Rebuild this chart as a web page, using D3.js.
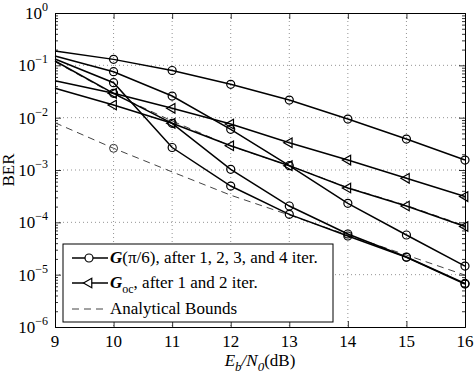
<!DOCTYPE html>
<html>
<head>
<meta charset="utf-8">
<script src="https://cdn.jsdelivr.net/npm/d3@7"></script>
<style>
  body { margin: 0; background: #fff; }
  text { font-family: "Liberation Serif", "DejaVu Serif", serif; }
</style>
</head>
<body>
<div id="chart"></div>
<script>
// Eb/N0 points (dB)
var snr = [9, 10, 11, 12, 13, 14, 15, 16];

// G(pi/6), iterations (circle markers)
var gIter1 = [0.188, 0.130, 0.0797, 0.0434, 0.0217, 0.0094, 0.0039, 0.00155];
var gIter2 = [0.151, 0.0755, 0.0259, 0.0060, 0.00121, 2.31e-4, 5.73e-5, 1.46e-5];
var gIter3 = [0.121, 0.0292, 0.0078, 0.00103, 2.05e-4, 5.98e-5, 2.17e-5, 6.8e-6];
var gIter4 = [0.132, 0.0466, 0.00269, 4.94e-4, 1.42e-4, 5.48e-5, 2.15e-5, 6.6e-6];

// G_oc, iterations (triangle markers)
var ocIter1 = [0.0508, 0.0292, 0.0151, 0.00757, 0.00332, 0.00155, 6.94e-4, 3.11e-4];
var ocIter2 = [0.0364, 0.01746, 0.0078, 0.00291, 0.00121, 4.53e-4, 2.05e-4, 8.32e-5];

// analytical bounds (dashed)
var boundOc = [0.117, 0.0283, 0.00863, 0.00287, 0.00121, 4.6e-4, 2.1e-4, 8.6e-5];
var boundG = [0.0080, 0.0026, 9.2e-4, 3.3e-4, 1.38e-4, 5.7e-5, 2.37e-5, 9.8e-6];
var boundMarkerIdx = [1];   // the lone marker sitting on the lower bound

var xTicks = [9, 10, 11, 12, 13, 14, 15, 16];
var yExps = [0, -1, -2, -3, -4, -5, -6];

var W = 474, H = 375;
var margin = {top: 13, right: 9, bottom: 48, left: 55};
var width = W - margin.left - margin.right,
    height = H - margin.top - margin.bottom;

var svg = d3.select("#chart").append("svg")
    .attr("width", W).attr("height", H);
var g = svg.append("g")
    .attr("transform", "translate(" + margin.left + "," + margin.top + ")");

var x = d3.scaleLinear().domain([9, 16]).range([0, width]);
var y = d3.scaleLog().domain([1e-6, 1]).range([height, 0]);

// dotted grid
g.append("g").selectAll("line")
  .data(xTicks.slice(1, -1)).enter().append("line")
    .attr("x1", function(d) { return x(d); }).attr("x2", function(d) { return x(d); })
    .attr("y1", 0).attr("y2", height)
    .attr("stroke", "#777").attr("stroke-width", 0.8).attr("stroke-dasharray", "1,3");
g.append("g").selectAll("line")
  .data(yExps.slice(1, -1)).enter().append("line")
    .attr("y1", function(d) { return y(Math.pow(10, d)); })
    .attr("y2", function(d) { return y(Math.pow(10, d)); })
    .attr("x1", 0).attr("x2", width)
    .attr("stroke", "#777").attr("stroke-width", 0.8).attr("stroke-dasharray", "1,3");

// minor tick values
var minor = [];
for (var e = -6; e < 0; e++) for (var k = 2; k <= 9; k++) minor.push(k * Math.pow(10, e));

function noLabels(ax) { return ax.tickFormat(""); }

// axes with inward ticks on all four sides
var major = yExps.map(function(d) { return Math.pow(10, d); });
g.append("g").call(noLabels(d3.axisLeft(y).tickValues(major).tickSizeInner(-6).tickSizeOuter(0)));
g.append("g").call(noLabels(d3.axisLeft(y).tickValues(minor).tickSizeInner(-3).tickSizeOuter(0)));
g.append("g").attr("transform", "translate(" + width + ",0)")
  .call(noLabels(d3.axisRight(y).tickValues(major).tickSizeInner(-6).tickSizeOuter(0)));
g.append("g").attr("transform", "translate(" + width + ",0)")
  .call(noLabels(d3.axisRight(y).tickValues(minor).tickSizeInner(-3).tickSizeOuter(0)));
g.append("g").attr("transform", "translate(0," + height + ")")
  .call(noLabels(d3.axisBottom(x).tickValues(xTicks).tickSizeInner(-6).tickSizeOuter(0)));
g.append("g")
  .call(noLabels(d3.axisTop(x).tickValues(xTicks).tickSizeInner(-6).tickSizeOuter(0)));
g.selectAll(".domain").attr("stroke", "#000").attr("stroke-width", 1);
g.selectAll(".tick line").attr("stroke", "#000").attr("stroke-width", 0.8);

// y tick labels 10^n
yExps.forEach(function(d) {
  var t = g.append("text")
      .attr("x", -7).attr("y", y(Math.pow(10, d)) + 6)
      .attr("text-anchor", "end").style("font-size", "17px");
  t.append("tspan").text("10");
  t.append("tspan").attr("dy", -8).style("font-size", "12px")
    .text(d === 0 ? "0" : "\u2212" + (-d));
});

// x tick labels
g.append("g").selectAll("text")
  .data(xTicks).enter().append("text")
    .attr("x", function(d) { return x(d); })
    .attr("y", height + 20)
    .attr("text-anchor", "middle").style("font-size", "17px")
    .text(function(d) { return d; });

// axis titles
var xt = g.append("text")
    .attr("x", width / 2).attr("y", height + 39)
    .attr("text-anchor", "middle").style("font-size", "17px");
xt.append("tspan").style("font-style", "italic").text("E");
xt.append("tspan").attr("dy", 5).style("font-style", "italic").style("font-size", "13px").text("b");
xt.append("tspan").attr("dy", -5).style("font-style", "italic").text("/N");
xt.append("tspan").attr("dy", 5).style("font-style", "italic").style("font-size", "13px").text("0");
xt.append("tspan").attr("dy", -5).text("(dB)");

g.append("text")
    .attr("transform", "translate(" + (-41) + "," + (height / 2) + ") rotate(-90)")
    .attr("text-anchor", "middle").style("font-size", "17px")
    .text("BER");

var line = d3.line()
    .x(function(d, i) { return x(snr[i]); })
    .y(function(d) { return y(d); });

// bounds
[boundOc, boundG].forEach(function(s) {
  g.append("path").datum(s)
    .attr("fill", "none").attr("stroke", "#444").attr("stroke-width", 1)
    .attr("stroke-dasharray", "7,5").attr("d", line);
});
g.append("g").selectAll("circle")
  .data(boundMarkerIdx).enter().append("circle")
    .attr("cx", function(i) { return x(snr[i]); })
    .attr("cy", function(i) { return y(boundG[i]); })
    .attr("r", 4).attr("fill", "none").attr("stroke", "#333").attr("stroke-width", 1);

var tri = d3.symbol().type(d3.symbolTriangle).size(40);

function drawSeries(s, marker) {
  g.append("path").datum(s)
    .attr("fill", "none").attr("stroke", "#000").attr("stroke-width", 1.5)
    .attr("d", line);
  // no markers at the first point (9 dB)
  var idx = d3.range(1, s.length);
  var pts = g.append("g").selectAll("path")
    .data(idx).enter();
  if (marker === "circle") {
    pts.append("circle")
      .attr("cx", function(i) { return x(snr[i]); })
      .attr("cy", function(i) { return y(s[i]); })
      .attr("r", 4).attr("fill", "none").attr("stroke", "#000").attr("stroke-width", 1.2);
  } else {
    pts.append("path")
      .attr("d", tri)
      .attr("transform", function(i) {
        return "translate(" + x(snr[i]) + "," + y(s[i]) + ") rotate(-90)";
      })
      .attr("fill", "none").attr("stroke", "#000").attr("stroke-width", 1.2);
  }
}
[gIter1, gIter2, gIter3, gIter4].forEach(function(s) { drawSeries(s, "circle"); });
[ocIter1, ocIter2].forEach(function(s) { drawSeries(s, "triangle"); });

// legend
var lg = g.append("g").attr("transform", "translate(8,231)");
lg.append("rect").attr("width", 270).attr("height", 78)
  .attr("fill", "#fff").attr("stroke", "#000").attr("stroke-width", 1);

var rows = [14, 39, 65];
lg.append("line").attr("x1", 9).attr("x2", 45).attr("y1", rows[0]).attr("y2", rows[0])
  .attr("stroke", "#000").attr("stroke-width", 1.5);
lg.append("circle").attr("cx", 26).attr("cy", rows[0]).attr("r", 4)
  .attr("fill", "#fff").attr("stroke", "#000").attr("stroke-width", 1.2);
lg.append("line").attr("x1", 9).attr("x2", 45).attr("y1", rows[1]).attr("y2", rows[1])
  .attr("stroke", "#000").attr("stroke-width", 1.5);
lg.append("path").attr("d", tri)
  .attr("transform", "translate(26," + rows[1] + ") rotate(-90)")
  .attr("fill", "#fff").attr("stroke", "#000").attr("stroke-width", 1.2);
lg.append("line").attr("x1", 9).attr("x2", 45).attr("y1", rows[2]).attr("y2", rows[2])
  .attr("stroke", "#444").attr("stroke-width", 1).attr("stroke-dasharray", "7,5");

var t1 = lg.append("text").attr("x", 47).attr("y", rows[0] + 5).style("font-size", "17px");
t1.append("tspan").style("font-weight", "bold").style("font-style", "italic").text("G");
t1.append("tspan").text("(\u03c0/6), after 1, 2, 3, and 4 iter.");

var t2 = lg.append("text").attr("x", 47).attr("y", rows[1] + 5).style("font-size", "17px");
t2.append("tspan").style("font-weight", "bold").style("font-style", "italic").text("G");
t2.append("tspan").attr("dy", 5).style("font-size", "12px").text("oc");
t2.append("tspan").attr("dy", -5).text(", after 1 and 2 iter.");

lg.append("text").attr("x", 47).attr("y", rows[2] + 5).style("font-size", "17px")
  .text("Analytical Bounds");
</script>
</body>
</html>
